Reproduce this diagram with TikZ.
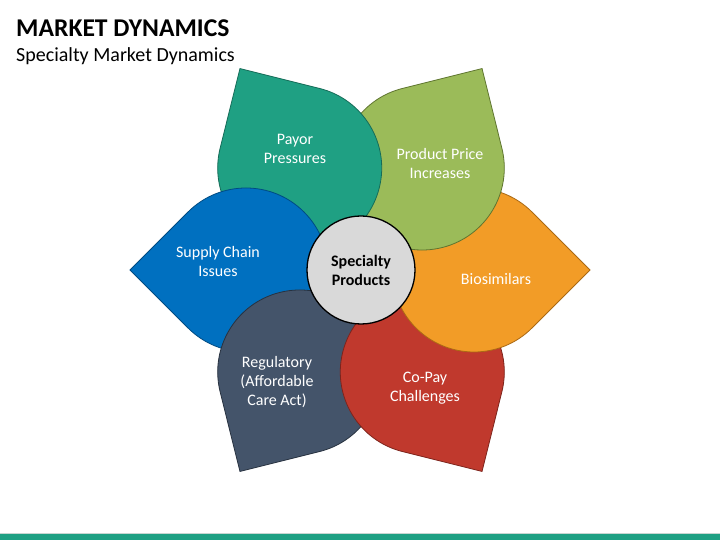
\documentclass[tikz,border=0pt]{standalone}
\usepackage{fontspec}
\setmainfont{Carlito}
\definecolor{teal1}{RGB}{31,160,131}
\definecolor{teal1d}{RGB}{22,108,88}
\definecolor{grn}{RGB}{155,187,89}
\definecolor{grnd}{RGB}{95,117,48}
\definecolor{org}{RGB}{242,156,39}
\definecolor{orgd}{RGB}{170,105,20}
\definecolor{redp}{RGB}{192,57,45}
\definecolor{redd}{RGB}{125,36,28}
\definecolor{slate}{RGB}{68,84,106}
\definecolor{slated}{RGB}{40,50,64}
\definecolor{bluep}{RGB}{0,112,192}
\definecolor{blued}{RGB}{0,75,130}
\definecolor{cgray}{RGB}{217,217,217}
\definecolor{barline}{RGB}{200,214,210}
\newcommand\drawleaf[4]{%
  \path[fill=#3, draw=#4, line width=0.8pt, shift={(O)}, rotate=#1]
    (#2,0) ++(45:82) arc[start angle=45, end angle=315, radius=82]
    -- ({#2+116},0) -- cycle;}
\begin{document}
\begin{tikzpicture}[x=1pt,y=1pt,
  lbl/.style={text=white, font=\fontsize{16}{19}\selectfont, align=center}]
\useasboundingbox (0,0) rectangle (720,540);
\fill[white] (0,0) rectangle (720,540);
\coordinate (O) at (361,270);
% title
\node[anchor=base west, inner sep=0pt, font=\bfseries\fontsize{25.6}{30}\selectfont] (title) at (16,503.5) {MARKET DYNAMICS};
\node[anchor=base west, inner sep=0pt, font=\fontsize{20}{24}\selectfont] (subtitle) at (16,478.3) {Specialty Market Dynamics};
% petals
\drawleaf{59}{119}{grn}{grnd}
\drawleaf{121}{119}{teal1}{teal1d}
\drawleaf{180}{115}{bluep}{blued}
\drawleaf{239}{119}{slate}{slated}
\drawleaf{301}{119}{redp}{redd}
\drawleaf{0}{113}{org}{orgd}
\begin{scope}
  \clip[shift={(O)}] (113,0) ++(45:83.5) arc[start angle=45, end angle=315, radius=83.5] -- (231.1,0) -- cycle;
  \drawleaf{59}{119}{grn}{grnd}
\end{scope}
% center
\node[circle, draw=black, line width=1.3pt, fill=cgray, minimum size=108pt, inner sep=0pt,
  font=\bfseries\fontsize{16}{19}\selectfont, align=center] (center) at (O) {Specialty\\Products};
% labels
\node[lbl] (payor) at (295,391.5) {Payor\\Pressures};
\node[lbl] (price) at (440,376) {Product Price\\Increases};
\node[lbl] (bio) at (496,261) {Biosimilars};
\node[lbl] (copay) at (425,151.5) {Co-Pay\\Challenges};
\node[lbl] (reg) at (277,158) {Regulatory\\(Affordable\\Care Act)};
\node[lbl] (supply) at (218,278) {Supply Chain\\Issues};
% bottom bar
\fill[barline] (0,5.5) rectangle (720,6.8);
\fill[teal1] (0,0) rectangle (720,5.5);
\end{tikzpicture}
\end{document}
